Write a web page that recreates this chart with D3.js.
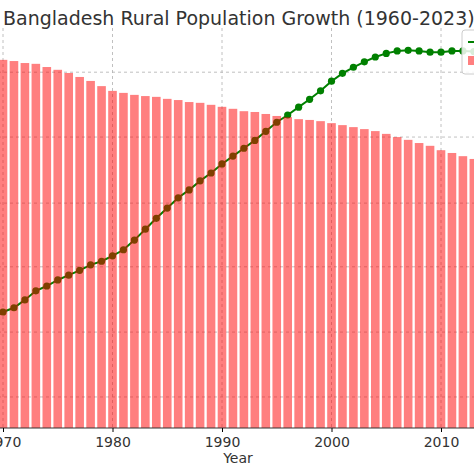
<!DOCTYPE html>
<html><head><meta charset="utf-8">
<script src="https://cdn.jsdelivr.net/npm/d3@7"></script>
<style>body{margin:0;background:#fff}svg{display:block}</style>
</head><body><svg id="c" width="474" height="474"></svg>
<script>
const years = d3.range(1960, 2024);
const ruralPct = [94.9,94.7,94.5,94.2,94.0,93.8,93.5,93.3,93.0,92.7,
92.5,92.2,91.7,91.5,90.7,90.0,89.2,88.2,87.2,85.9,
84.7,84.2,83.7,83.4,83.2,82.7,82.4,81.9,81.7,81.2,
80.7,80.2,79.6,79.4,78.9,78.4,78.1,77.6,77.4,77.1,
76.6,76.1,75.6,75.1,74.6,73.9,73.1,72.4,71.6,70.9,
69.8,69.1,68.3,67.6,66.9,66.2,65.5,64.8,64.1,63.4,62.6,61.9,61.2,60.5];
const ruralPop = [48.6,49.8,51.0,52.2,53.4,54.6,55.8,57.0,58.3,59.7,
61.0,61.7,63.0,64.5,65.3,66.3,67.1,67.9,68.8,69.4,
70.3,71.3,72.9,74.7,76.5,78.2,79.9,81.2,82.7,84.0,
85.5,86.8,88.1,89.4,90.9,92.4,93.6,94.9,96.2,97.6,
99.2,100.5,101.5,102.4,103.2,103.8,104.2,104.3,104.2,104.0,
104.0,104.2,104.2,104.1,103.9,103.7,103.4,103.1,102.8,102.4,102.0,101.6,101.2,100.8];
const xTicks = [1970,1980,1990,2000,2010];
const gridTicks = [7.8,24.1,40.5,56.5,73.1,89.4];
const title = "Bangladesh Rural Population Growth (1960-2023)";

const svg = d3.select("#c");
const x = d3.scaleLinear().domain([1970,2010]).range([3,441]);
const yL = d3.scaleLinear().domain([0,100]).range([428,30]);
const yR = d3.scaleLinear().domain([41.8,108]).range([428,28]);
const bw = 8.6;

svg.append("g").selectAll("line").data(gridTicks).join("line")
  .attr("x1",-200).attr("x2",474).attr("y1",d=>yL(d)).attr("y2",d=>yL(d))
  .attr("stroke","#b0b0b0").attr("stroke-dasharray","3,3").attr("stroke-width",0.8);
svg.append("g").selectAll("line").data(xTicks).join("line")
  .attr("x1",d=>x(d)).attr("x2",d=>x(d)).attr("y1",28).attr("y2",428)
  .attr("stroke","#b0b0b0").attr("stroke-dasharray","3,3").attr("stroke-width",0.8);

svg.append("path").datum(years.map((y,i)=>[y,ruralPop[i]]))
  .attr("d",d3.line().x(d=>x(d[0])).y(d=>yR(d[1])))
  .attr("fill","none").attr("stroke","green").attr("stroke-width",2);
svg.append("g").selectAll("circle").data(years).join("circle")
  .attr("cx",d=>x(d)).attr("cy",(d,i)=>yR(ruralPop[i])).attr("r",3.6).attr("fill","green");

svg.append("g").selectAll("rect").data(years).join("rect")
  .attr("x",d=>x(d)-bw/2).attr("width",bw)
  .attr("y",(d,i)=>yL(ruralPct[i])).attr("height",(d,i)=>428-yL(ruralPct[i]))
  .attr("fill","red").attr("fill-opacity",0.5);

const ax = svg.append("g").attr("transform","translate(0,428)")
  .call(d3.axisBottom(x).tickValues(xTicks).tickFormat(d3.format("d")).tickSize(4));
ax.select(".domain").attr("stroke","#333").attr("d","M-200,0H700");
ax.selectAll("text").attr("font-family","DejaVu Sans").attr("font-size",14).attr("fill","#333").attr("dy","0.85em");
svg.append("text").attr("x",238).attr("y",463).attr("text-anchor","middle")
  .attr("font-family","DejaVu Sans").attr("font-size",14).attr("fill","#333").text("Year");
svg.append("text").attr("x",3).attr("y",25).attr("font-family","DejaVu Sans").attr("font-size",19)
  .attr("fill","#333").text(title);

const lg = svg.append("g").attr("transform","translate(462,30)");
lg.append("rect").attr("width",120).attr("height",44).attr("rx",3).attr("fill","#fff").attr("fill-opacity",0.85).attr("stroke","#ccc");
lg.append("line").attr("x1",6).attr("x2",30).attr("y1",12).attr("y2",12).attr("stroke","green").attr("stroke-width",2);
lg.append("rect").attr("x",6).attr("y",26).attr("width",24).attr("height",9).attr("fill","red").attr("fill-opacity",0.5);
</script></body></html>
